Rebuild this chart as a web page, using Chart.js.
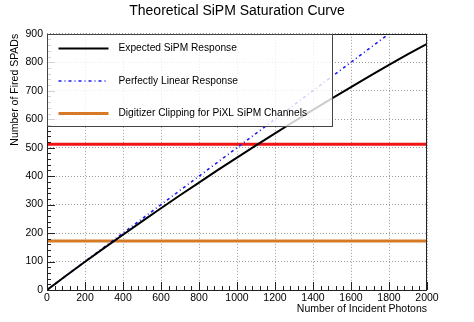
<!DOCTYPE html>
<html>
<head>
<meta charset="utf-8">
<script src="https://cdn.jsdelivr.net/npm/chart.js@4.4.1/dist/chart.umd.min.js"></script>
<style>
    body { margin: 0; background: #fff; }
    #wrap { width: 474px; height: 322px; }
</style>
</head>
<body>
<div id="wrap"><canvas id="satChart" width="474" height="322"></canvas></div>
<script>
const FONT = "'Liberation Sans', Arial, Helvetica, sans-serif";

// values
const photons = [0, 100, 200, 300, 400, 500, 600, 700, 800, 900, 1000,
                 1100, 1200, 1300, 1400, 1500, 1600, 1700, 1800, 1900, 2000];
const expectedFired = [0, 50, 99, 147, 194, 241, 287, 333, 377, 422, 465,
                       508, 550, 592, 633, 673, 713, 752, 791, 829, 865];
const linearPhotons = [0, 200, 400, 600, 800, 1000, 1200, 1400, 1600, 1800];
const linearFired = [0, 100, 200, 300, 400, 500, 600, 700, 800, 900];
const clipPhotons = [0, 2000];
const pixlClipLevel = 172;
const digitizerMaxLevel = 512;

const legendLabels = ["Expected SiPM Response", "Perfectly Linear Response", "Digitizer Clipping for PiXL SiPM Channels"];

function toPoints(xs, ys) {
    return xs.map((x, i) => ({ x: x, y: ys[i] }));
}

// ROOT-like frame: inner tick marks, solid frame and the boxed legend
const rootFrame = {
    id: "rootFrame",
    afterDatasetsDraw(chart) {
        const ctx = chart.ctx;
        const area = chart.chartArea;
        const xs = chart.scales.x;
        const ys = chart.scales.y;
        ctx.save();
        ctx.strokeStyle = "#222";
        ctx.lineWidth = 1;
        ctx.beginPath();
        for (let v = 0; v <= 2000; v += 40) {
            const px = Math.round(xs.getPixelForValue(v)) + 0.5;
            const len = v % 200 === 0 ? 8 : 4;
            ctx.moveTo(px, area.bottom);
            ctx.lineTo(px, area.bottom - len);
        }
        for (let v = 0; v <= 900; v += 20) {
            const py = Math.round(ys.getPixelForValue(v)) + 0.5;
            const len = v % 100 === 0 ? 8 : 4;
            ctx.moveTo(area.left, py);
            ctx.lineTo(area.left + len, py);
        }
        ctx.stroke();
        ctx.strokeRect(Math.round(area.left) + 0.5, Math.round(area.top) + 0.5,
                       Math.round(area.right - area.left) - 1, Math.round(area.bottom - area.top));

        // legend box
        const lx = Math.round(area.left) + 0.5;
        const ly = Math.round(area.top) + 0.5;
        const rx = Math.round(xs.getPixelForValue(1500)) + 0.5;
        const by = Math.round(ys.getPixelForValue(575)) + 0.5;
        ctx.fillStyle = "rgba(255,255,255,0.8)";
        ctx.fillRect(lx, ly, rx - lx, by - ly);
        ctx.strokeStyle = "#444";
        ctx.strokeRect(lx, ly, rx - lx, by - ly);

        ctx.font = "10.2px " + FONT;
        ctx.textBaseline = "middle";
        ctx.textAlign = "left";
        legendLabels.forEach((label, i) => {
            const ds = chart.data.datasets.find(d => d.label === label);
            const rowY = ly + 14 + i * 32.5;
            ctx.save();
            ctx.strokeStyle = ds.borderColor;
            ctx.lineWidth = ds.borderWidth;
            ctx.setLineDash(ds.borderDash || []);
            ctx.beginPath();
            ctx.moveTo(lx + 11, rowY);
            ctx.lineTo(lx + 61, rowY);
            ctx.stroke();
            ctx.restore();
            ctx.fillStyle = "#000";
            ctx.fillText(label, lx + 71, rowY);
        });
        ctx.restore();
    }
};

const ctx = document.getElementById("satChart").getContext("2d");
const satChart = new Chart(ctx, {
    type: "scatter",
    data: {
        datasets: [
            {
                label: "Expected SiPM Response",
                data: toPoints(photons, expectedFired),
                borderColor: "#000",
                borderWidth: 2,
                showLine: true,
                pointRadius: 0,
                order: 1
            },
            {
                label: "Perfectly Linear Response",
                data: toPoints(linearPhotons, linearFired),
                borderColor: "#1a1aff",
                borderWidth: 1.6,
                borderDash: [3, 3, 1, 3],
                showLine: true,
                pointRadius: 0,
                order: 2
            },
            {
                label: "Digitizer Clipping for PiXL SiPM Channels",
                data: toPoints(clipPhotons, [pixlClipLevel, pixlClipLevel]),
                borderColor: "rgb(214,122,40)",
                borderWidth: 3,
                showLine: true,
                pointRadius: 0,
                order: 3
            },
            {
                label: "Digitizer Maximum",
                data: toPoints(clipPhotons, [digitizerMaxLevel, digitizerMaxLevel]),
                borderColor: "rgb(240,20,20)",
                borderWidth: 3,
                showLine: true,
                pointRadius: 0,
                order: 4
            }
        ]
    },
    options: {
        responsive: false,
        animation: false,
        layout: { padding: 0 },
        plugins: {
            legend: { display: false },
            tooltip: { enabled: false },
            title: {
                display: true,
                text: "Theoretical SiPM Saturation Curve",
                color: "#000",
                font: { family: FONT, size: 14, weight: "normal" },
                padding: { top: 3, bottom: 14 }
            }
        },
        scales: {
            x: {
                type: "linear",
                min: 0,
                max: 2000,
                ticks: { stepSize: 200, color: "#000", padding: 2, maxRotation: 0, autoSkip: false,
                         font: { family: FONT, size: 10.5 }, callback: v => String(v) },
                grid: { color: "#999", lineWidth: 1, drawTicks: false },
                border: { display: false, dash: [1, 2] },
                title: { display: true, text: "Number of Incident Photons", align: "end", color: "#000",
                         font: { family: FONT, size: 10.5 }, padding: { top: 0, bottom: 7 } },
                afterFit: s => { s.height = 32; }
            },
            y: {
                type: "linear",
                min: 0,
                max: 900,
                ticks: { stepSize: 100, color: "#000", padding: 4,
                         font: { family: FONT, size: 10.5 }, callback: v => String(v) },
                grid: { color: "#999", lineWidth: 1, drawTicks: false },
                border: { display: false, dash: [1, 2] },
                title: { display: true, text: "Number of Fired SPADs", align: "end", color: "#000",
                         font: { family: FONT, size: 10.5 }, padding: { top: 9, bottom: 0 } },
                afterFit: s => { s.width = 47; }
            },
            // empty right margin, keeps the title centred on the page
            yRight: {
                type: "linear",
                position: "right",
                min: 0,
                max: 900,
                ticks: { display: false },
                grid: { display: false, drawTicks: false },
                border: { display: false },
                afterFit: s => { s.width = 47; }
            }
        }
    },
    plugins: [rootFrame]
});
</script>
</body>
</html>
